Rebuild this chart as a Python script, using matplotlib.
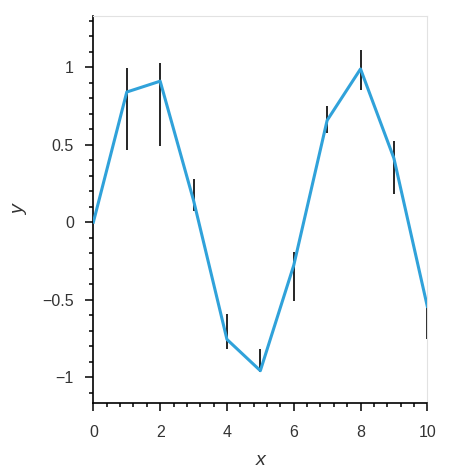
import numpy as np
import matplotlib
matplotlib.use("Agg")
import matplotlib.pyplot as plt
from matplotlib.ticker import MultipleLocator

plt.rcParams['font.family'] = ['Liberation Sans', 'DejaVu Sans']

# values
xs = [0, 1, 2, 3, 4, 5, 6, 7, 8, 9, 10]
ys = [0.0, 0.84, 0.91, 0.14, -0.757, -0.959, -0.279, 0.657, 0.989, 0.412, -0.544]
err_x = [1, 2, 3, 4, 5, 6, 7, 8, 9, 10]
err_lo = [0.463, 0.49, 0.075, -0.821, -0.97, -0.51, 0.577, 0.856, 0.179, -0.757]
err_hi = [0.996, 1.028, 0.28, -0.591, -0.817, -0.194, 0.751, 1.114, 0.523, -0.548]

fig = plt.figure(figsize=(4.74, 4.74), dpi=100)
ax = fig.add_axes([0.197, 0.149, 0.7045, 0.817])

ax.vlines(err_x, err_lo, err_hi, color='black', linewidth=1.2, zorder=2)
ax.plot(xs, ys, color='#30a2da', linewidth=2.2, zorder=3)

ax.set_xlim(0, 10)
ax.set_ylim(-1.17, 1.33)

ax.xaxis.set_major_locator(MultipleLocator(2))
ax.xaxis.set_minor_locator(MultipleLocator(0.4))
ax.yaxis.set_major_locator(MultipleLocator(0.5))
ax.yaxis.set_minor_locator(MultipleLocator(0.1))
ax.yaxis.set_major_formatter(plt.FuncFormatter(
    lambda v, p: ('%g' % v).replace('-', '\u2212')))

ax.tick_params(which='major', direction='out', length=5.5, width=1.1,
               labelsize=11.5, color='black', labelcolor='#333333')
ax.tick_params(axis='x', which='major', pad=10)
ax.tick_params(axis='y', which='major', pad=8.5)
ax.tick_params(which='minor', direction='out', length=3, width=1.1, color='black')

for s in ['left', 'bottom']:
    ax.spines[s].set_color('black')
    ax.spines[s].set_linewidth(1.2)
for s in ['top', 'right']:
    ax.spines[s].set_color('#e2e2e2')
    ax.spines[s].set_linewidth(0.8)

ax.set_xlabel('x', fontsize=14, style='italic', color='#333333', labelpad=9)
ax.set_ylabel('y', fontsize=14, style='italic', color='#333333', labelpad=10)

fig.savefig('out.png', dpi=100)
